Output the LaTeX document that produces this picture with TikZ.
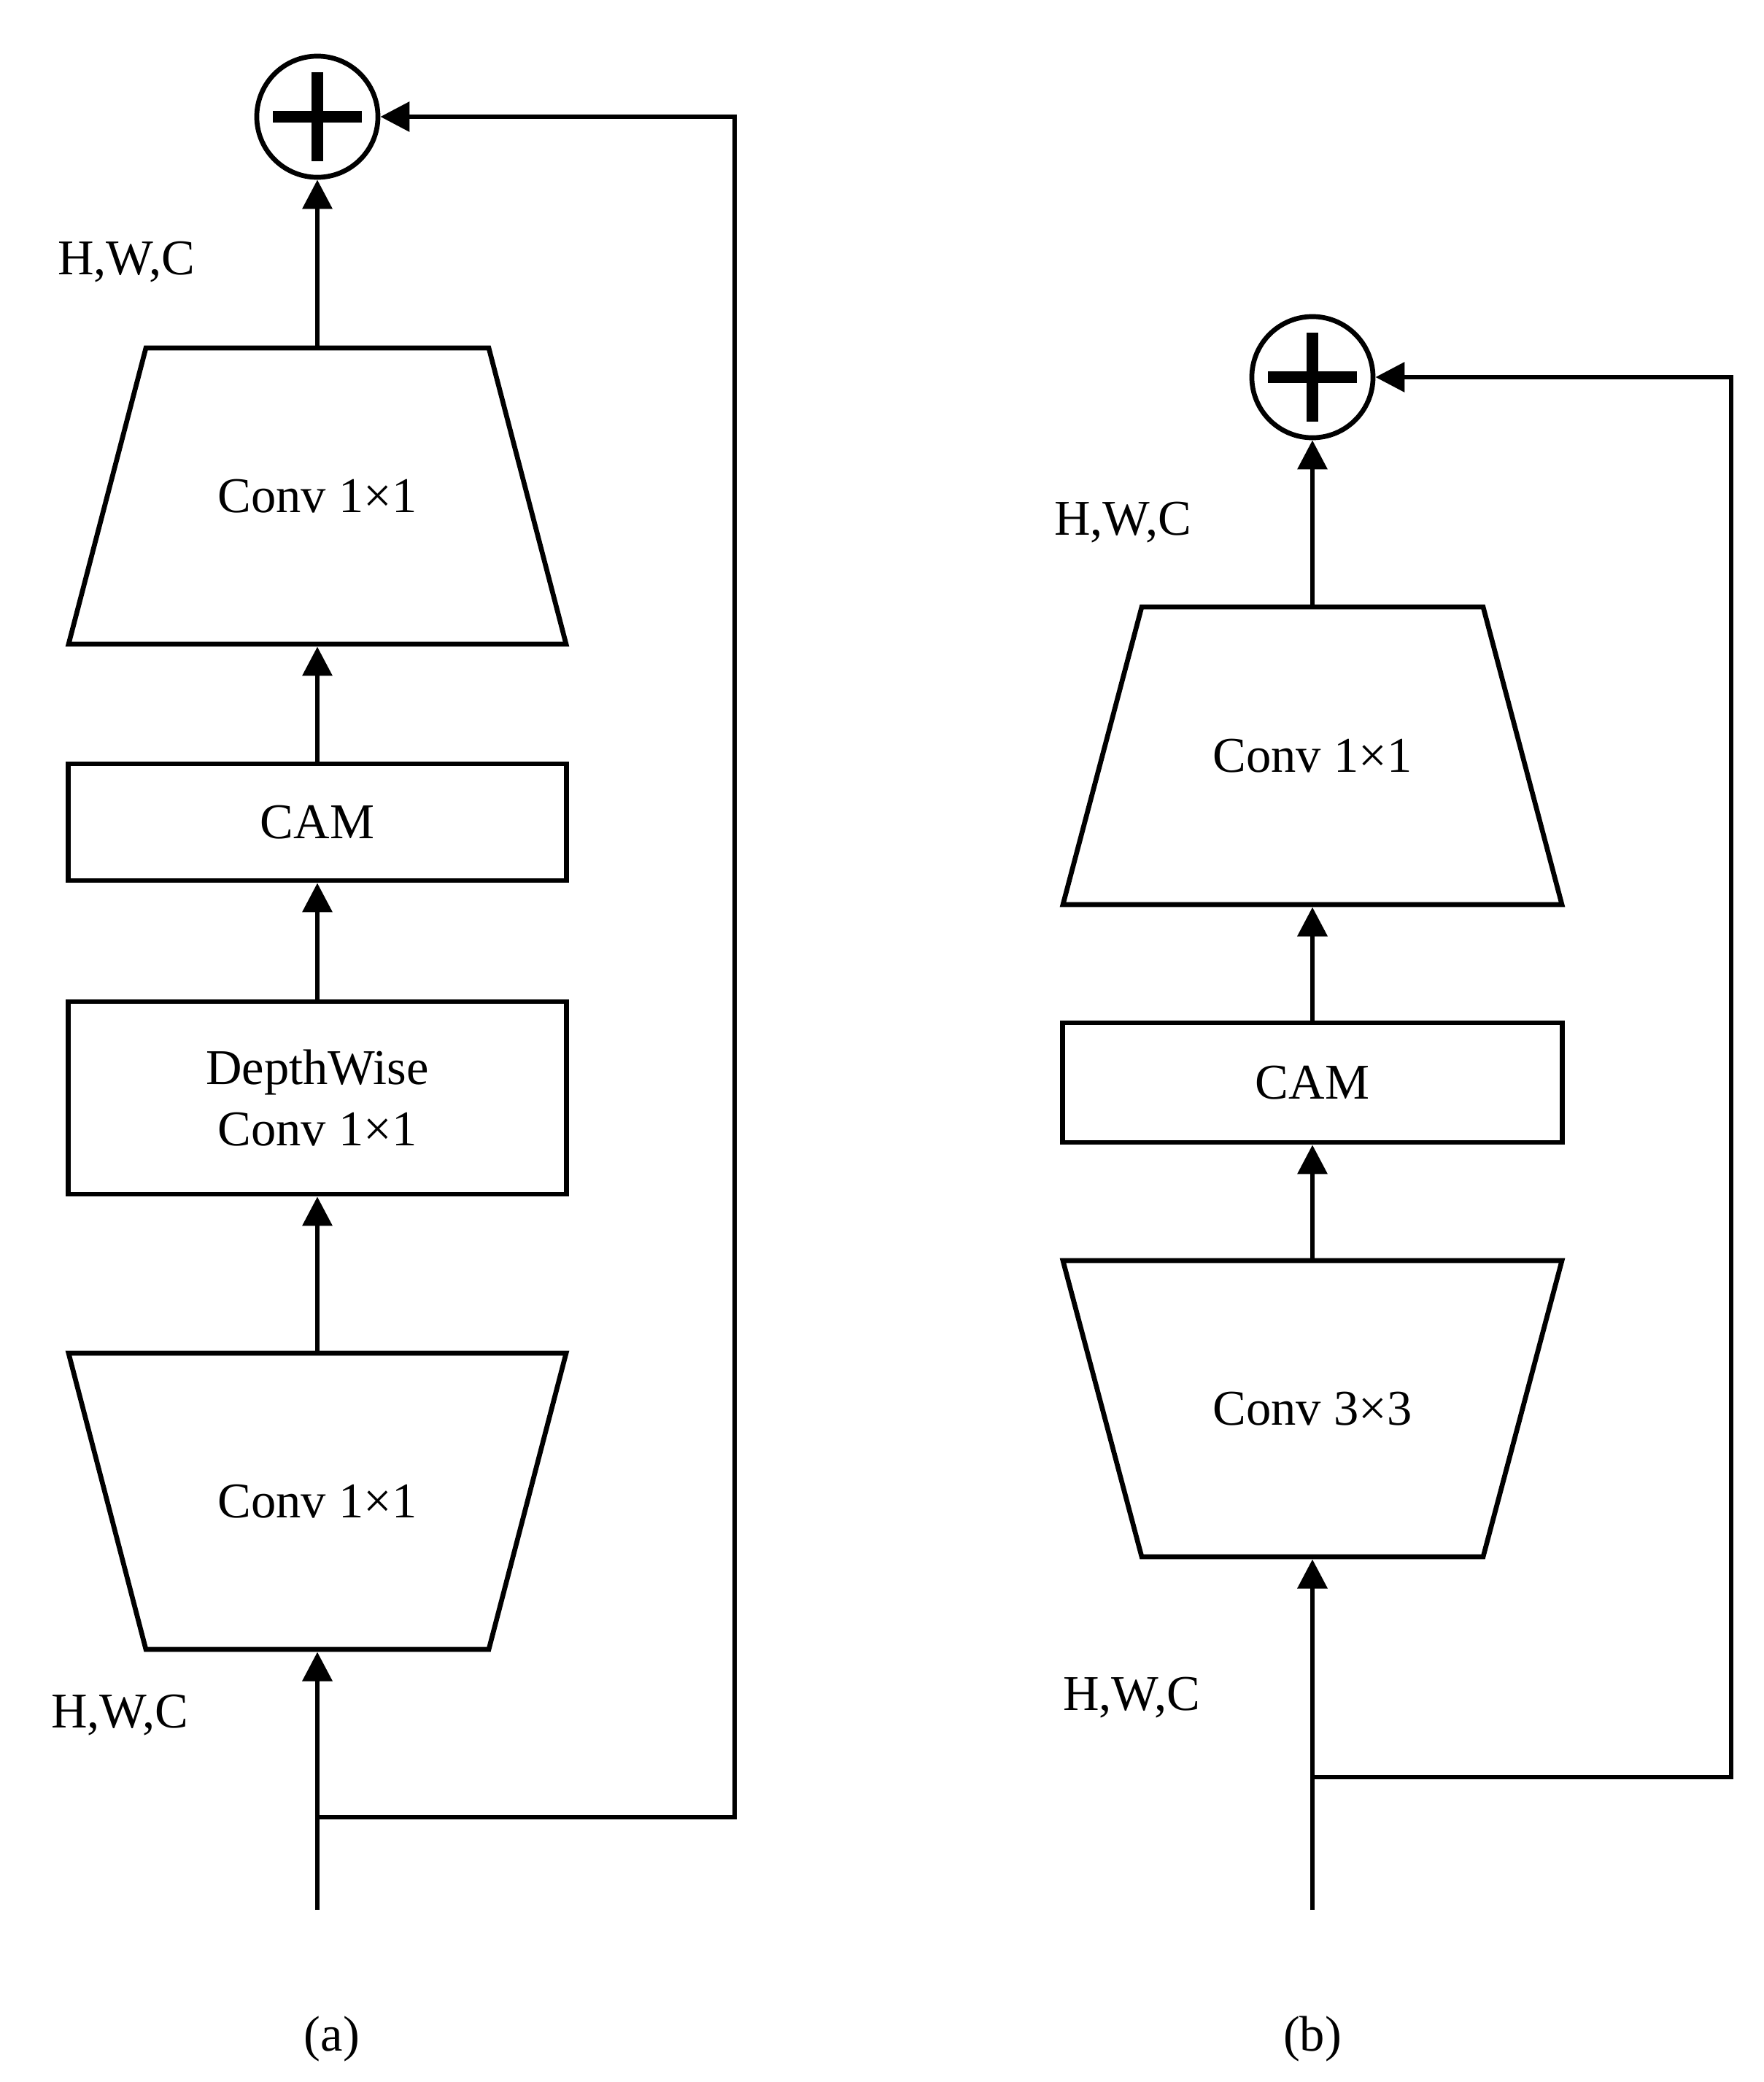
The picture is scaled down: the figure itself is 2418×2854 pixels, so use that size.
\documentclass[tikz,border=0pt]{standalone}
\usepackage{fontspec}
\setmainfont{Liberation Serif}
\usetikzlibrary{arrows.meta}
\begin{document}
\begin{tikzpicture}[x=0.01cm,y=-0.01cm,
  line width=1.9pt,
  arr/.style={-{Triangle[length=0.40cm,width=0.40cm]}},
  lbl/.style={font=\fontsize{19.5}{24}\selectfont, inner sep=0pt},
  txt/.style={font=\fontsize{19.5}{24}\selectfont, inner sep=0pt, align=center},
  boxx/.style={draw, inner sep=0pt, font=\fontsize{19.5}{24}\selectfont, align=center},
  plusc/.style={draw, circle, minimum size=1.66cm, inner sep=0pt}
]
\useasboundingbox (0,0) rectangle (2418,2854);

% ---------------- panel (a) ----------------
\node[plusc] (pa) at (435,160) {};
\draw[line width=4.3pt] (435,99) -- (435,221) (374,160) -- (496,160);

\draw (200,477) -- (670,477) -- (776,883) -- (94,883) -- cycle;
\node[txt, minimum width=6.82cm, minimum height=4.06cm] (t1) at (435,680) {Conv 1×1};

\node[boxx, minimum width=6.82cm, minimum height=1.60cm] (cama) at (435,1127) {CAM};
\node[boxx, minimum width=6.82cm, minimum height=2.64cm] (dw) at (435,1505) {DepthWise\\Conv 1×1};

\draw (94,1855) -- (776,1855) -- (670,2261) -- (200,2261) -- cycle;
\node[txt, minimum width=6.82cm, minimum height=4.06cm] (t2) at (435,2058) {Conv 1×1};

\coordinate (ina) at (435,2618);
\coordinate (bra) at (435,2491);
\coordinate (ca1) at (1007,2491);
\coordinate (ca2) at (1007,160);

\draw[arr] (t1.north) -- (pa.south);
\draw[arr] (cama.north) -- (t1.south);
\draw[arr] (dw.north) -- (cama.south);
\draw[arr] (t2.north) -- (dw.south);
\draw[arr] (ina) -- (t2.south);
\draw[arr] (bra) -- (ca1) -- (ca2) -- (pa.east);

\node[lbl] (la1) at (173,359) {H,W,C};
\node[lbl] (la2) at (164,2351) {H,W,C};
\node[lbl] (capa) at (455,2795) {(a)};

% ---------------- panel (b) ----------------
\node[plusc] (pb) at (1799,517) {};
\draw[line width=4.3pt] (1799,456) -- (1799,578) (1738,517) -- (1860,517);

\draw (1565,832) -- (2033,832) -- (2141,1240) -- (1457,1240) -- cycle;
\node[txt, minimum width=6.84cm, minimum height=4.08cm] (t3) at (1799,1036) {Conv 1×1};

\node[boxx, minimum width=6.84cm, minimum height=1.64cm] (camb) at (1799,1484) {CAM};

\draw (1457,1728) -- (2141,1728) -- (2033,2134) -- (1565,2134) -- cycle;
\node[txt, minimum width=6.84cm, minimum height=4.06cm] (t4) at (1799,1931) {Conv 3×3};

\coordinate (inb) at (1799,2618);
\coordinate (brb) at (1799,2436);
\coordinate (cb1) at (2373,2436);
\coordinate (cb2) at (2373,517);

\draw[arr] (t3.north) -- (pb.south);
\draw[arr] (camb.north) -- (t3.south);
\draw[arr] (t4.north) -- (camb.south);
\draw[arr] (inb) -- (t4.south);
\draw[arr] (brb) -- (cb1) -- (cb2) -- (pb.east);

\node[lbl] (lb1) at (1539,716) {H,W,C};
\node[lbl] (lb2) at (1551,2327) {H,W,C};
\node[lbl] (capb) at (1799,2795) {(b)};
\end{tikzpicture}
\end{document}
